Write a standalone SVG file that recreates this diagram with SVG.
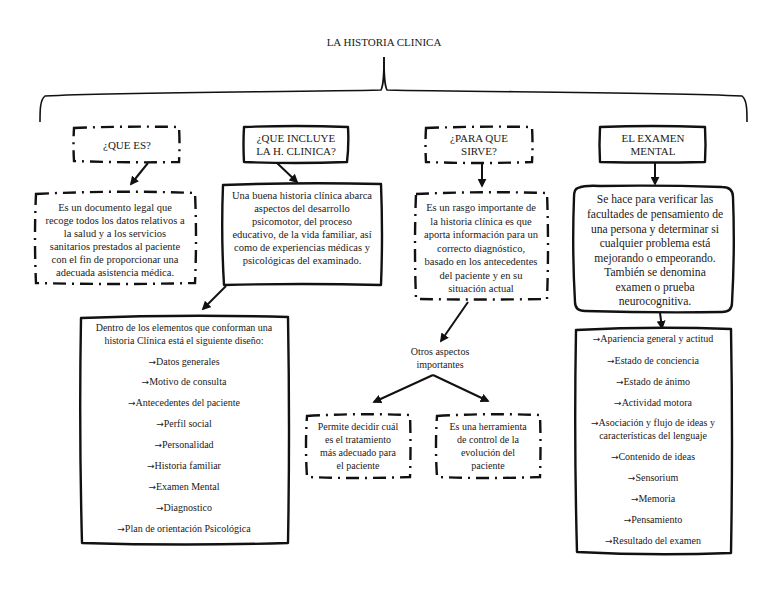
<svg xmlns="http://www.w3.org/2000/svg" width="768" height="594" viewBox="0 0 768 594">
<defs>
<marker id="ah" viewBox="0 0 10 10" refX="8" refY="5" markerWidth="4.5" markerHeight="4.5" orient="auto" markerUnits="strokeWidth">
<path d="M0,0 L10,5 L0,10 Z" fill="#111"/>
</marker>
<style>
text{font-family:"Liberation Serif",serif;fill:#1a1a1a;text-anchor:middle}
.t{font-size:10.5px}
.h{font-size:11px}
.s{font-size:11.6px}
.sm{font-size:10px}
.ar{font-family:"DejaVu Sans",sans-serif;font-size:9px}
.solid{fill:#fff;stroke:#111;stroke-width:2.4;stroke-linejoin:round}
.dash{fill:#fff;stroke:#111;stroke-width:2.4;stroke-dasharray:13 6 2 6}
.con{fill:none;stroke:#111;stroke-width:2}
.br{fill:none;stroke:#111;stroke-width:1.6}
</style>
</defs>
<rect width="768" height="594" fill="#fff"/>
<text class="h" x="384" y="46">LA HISTORIA CLINICA</text>
<g id="connectors">
<path class="br" d="M384,57 C384,72 384,84 381,90 C300,92 120,92 45,96 C40,100 40,110 40,122"/>
<path class="br" d="M384,57 C384,72 384,84 387,90 C470,92 660,92 742,96 C747,100 747,110 747,122"/>
<line class="con" x1="148" y1="163" x2="131" y2="184" marker-end="url(#ah)"/>
<line class="con" x1="277" y1="163" x2="297" y2="182" marker-end="url(#ah)"/>
<line class="con" x1="482" y1="164" x2="482" y2="186" marker-end="url(#ah)"/>
<line class="con" x1="655" y1="162" x2="655" y2="184" marker-end="url(#ah)"/>
<line class="con" x1="226" y1="286" x2="203" y2="309" marker-end="url(#ah)"/>
<line class="con" x1="468" y1="302" x2="441" y2="341" marker-end="url(#ah)"/>
<line class="con" x1="660" y1="313" x2="662" y2="328" marker-end="url(#ah)"/>
<line class="con" x1="433" y1="375" x2="374" y2="402" marker-end="url(#ah)"/>
<line class="con" x1="433" y1="375" x2="488" y2="401" marker-end="url(#ah)"/>
</g>
<g id="que-es">
<path class="dash" d="M74,128 Q126,126 179,127 Q180,145 179,162 Q126,163 74,161 Q73,145 74,128 Z"/>
<text class="h" x="127" y="149">¿QUE ES?</text>
</g>
<g id="que-incluye">
<path class="solid" d="M244,127 Q296,125 348,127 Q349,145 347,162 Q296,164 244,162 Q243,145 244,127 Z"/>
<text class="h" x="296" y="142">¿QUE INCLUYE</text>
<text class="h" x="296" y="155">LA H. CLINICA?</text>
</g>
<g id="para-que">
<path class="dash" d="M426,128 Q479,126 532,127 Q533,145 532,162 Q479,164 426,162 Q425,145 426,128 Z"/>
<text class="h" x="479" y="142">¿PARA QUE</text>
<text class="h" x="479" y="155">SIRVE?</text>
</g>
<g id="examen-mental">
<path class="solid" d="M600,127 Q653,125 705,127 Q706,145 705,162 Q653,163 600,162 Q599,145 600,127 Z"/>
<text class="h" x="653" y="142">EL EXAMEN</text>
<text class="h" x="653" y="155">MENTAL</text>
</g>
<g id="que-es-def">
<path class="dash" d="M36,194 Q115,190 195,193 Q197,238 195,283 Q115,285 36,283 Q34,238 36,194 Z"/>
<text class="t" x="115" y="211">Es un documento legal que</text>
<text class="t" x="115" y="224">recoge todos los datos relativos a</text>
<text class="t" x="115" y="237">la salud y a los servicios</text>
<text class="t" x="115" y="250">sanitarios prestados al paciente</text>
<text class="t" x="115" y="263">con el fin de proporcionar una</text>
<text class="t" x="115" y="276">adecuada asistencia médica.</text>
</g>
<g id="incluye-def">
<path class="solid" d="M223,185 Q302,182 381,184 Q383,235 381,285 Q302,283 224,285 Q221,235 223,185 Z"/>
<text class="t" x="302" y="199">Una buena historia clínica abarca</text>
<text class="t" x="302" y="212">aspectos del desarrollo</text>
<text class="t" x="302" y="225">psicomotor, del proceso</text>
<text class="t" x="302" y="238">educativo, de la vida familiar, así</text>
<text class="t" x="302" y="251">como de experiencias médicas y</text>
<text class="t" x="302" y="264">psicológicas del examinado.</text>
</g>
<g id="sirve-def">
<path class="dash" d="M416,194 Q481,191 547,193 Q549,246 547,299 Q481,300 416,299 Q414,246 416,194 Z"/>
<text class="t" x="481" y="211">Es un rasgo importante de</text>
<text class="t" x="481" y="224.5">la historia clínica es que</text>
<text class="t" x="481" y="238">aporta información para un</text>
<text class="t" x="481" y="251.5">correcto diagnóstico,</text>
<text class="t" x="481" y="265">basado en los antecedentes</text>
<text class="t" x="481" y="278.5">del paciente y en su</text>
<text class="t" x="481" y="292">situación actual</text>
</g>
<g id="examen-def">
<path class="solid" d="M578,188 Q585,185 600,186 Q660,185 722,187 Q733,187 733,197 Q735,250 732,303 Q732,312 722,312 Q655,313 585,311 Q575,311 575,302 Q572,250 574,197 Q574,189 578,188 Z"/>
<text class="s" x="655" y="203">Se hace para verificar las</text>
<text class="s" x="655" y="218">facultades de pensamiento de</text>
<text class="s" x="655" y="232.5">una persona y determinar si</text>
<text class="s" x="655" y="247">cualquier problema está</text>
<text class="s" x="655" y="261.5">mejorando o empeorando.</text>
<text class="s" x="655" y="276">También se denomina</text>
<text class="s" x="655" y="290.5">examen o prueba</text>
<text class="s" x="655" y="305">neurocognitiva.</text>
</g>
<g id="diseno">
<path class="solid" d="M81,318 Q185,314 288,317 Q290,430 288,543 Q185,546 82,543 Q79,430 81,318 Z"/>
<text class="sm" x="184" y="331">Dentro de los elementos que conforman una</text>
<text class="sm" x="184" y="344">historia Clínica está el siguiente diseño:</text>
<text class="sm" x="184" y="365"><tspan class="ar">→</tspan>Datos generales</text>
<text class="sm" x="184" y="385"><tspan class="ar">→</tspan>Motivo de consulta</text>
<text class="sm" x="184" y="406"><tspan class="ar">→</tspan>Antecedentes del paciente</text>
<text class="sm" x="184" y="427"><tspan class="ar">→</tspan>Perfil social</text>
<text class="sm" x="184" y="448"><tspan class="ar">→</tspan>Personalidad</text>
<text class="sm" x="184" y="469"><tspan class="ar">→</tspan>Historia familiar</text>
<text class="sm" x="184" y="490"><tspan class="ar">→</tspan>Examen Mental</text>
<text class="sm" x="184" y="511"><tspan class="ar">→</tspan>Diagnostico</text>
<text class="sm" x="184" y="532"><tspan class="ar">→</tspan>Plan de orientación Psicológica</text>
</g>
<g id="otros">
<text class="sm" x="440" y="355">Otros aspectos</text>
<text class="sm" x="440" y="368">importantes</text>
</g>
<g id="permite">
<path class="dash" d="M307,416 Q358,413 410,415 Q411,446 410,477 Q358,479 307,477 Q305,446 307,416 Z"/>
<text class="sm" x="358" y="429.5">Permite decidir cuál</text>
<text class="sm" x="358" y="442.5">es el tratamiento</text>
<text class="sm" x="358" y="456">más adecuado para</text>
<text class="sm" x="358" y="469">el paciente</text>
</g>
<g id="herramienta">
<path class="dash" d="M437,416 Q488,413 540,415 Q541,446 540,477 Q488,479 437,477 Q435,446 437,416 Z"/>
<text class="sm" x="488" y="429.5">Es una herramienta</text>
<text class="sm" x="488" y="442.5">de control de la</text>
<text class="sm" x="488" y="456">evolución del</text>
<text class="sm" x="488" y="469">paciente</text>
</g>
<g id="examen-items">
<path class="solid" d="M576,330 Q653,326 731,329 Q733,442 731,553 Q653,556 577,552 Q574,442 576,330 Z"/>
<text class="sm" x="653" y="341.5"><tspan class="ar">→</tspan>Apariencia general y actitud</text>
<text class="sm" x="653" y="363.5"><tspan class="ar">→</tspan>Estado de conciencia</text>
<text class="sm" x="653" y="385"><tspan class="ar">→</tspan>Estado de ánimo</text>
<text class="sm" x="653" y="405.5"><tspan class="ar">→</tspan>Actividad motora</text>
<text class="sm" x="653" y="425.5"><tspan class="ar">→</tspan>Asociación y flujo de ideas y</text>
<text class="sm" x="653" y="438.5">características del lenguaje</text>
<text class="sm" x="653" y="459.5"><tspan class="ar">→</tspan>Contenido de ideas</text>
<text class="sm" x="653" y="480.5"><tspan class="ar">→</tspan>Sensorium</text>
<text class="sm" x="653" y="501.5"><tspan class="ar">→</tspan>Memoria</text>
<text class="sm" x="653" y="522.5"><tspan class="ar">→</tspan>Pensamiento</text>
<text class="sm" x="653" y="543.5"><tspan class="ar">→</tspan>Resultado del examen</text>
</g>
</svg>
